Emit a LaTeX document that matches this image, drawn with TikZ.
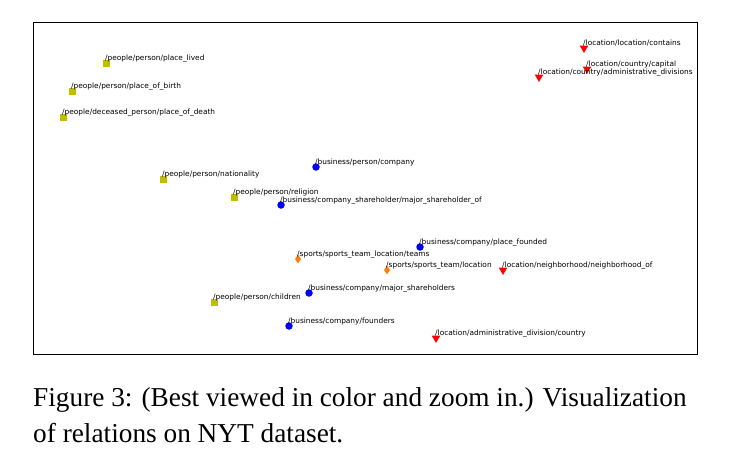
\documentclass[tikz,border=0pt]{standalone}
\usepackage{fontspec}
\setmainfont{Liberation Serif}
\newfontfamily\lab{DejaVu Sans}
\usetikzlibrary{shapes.geometric}
\definecolor{oliv}{RGB}{191,191,0}
\definecolor{orng}{RGB}{255,127,14}
\tikzset{
 x=1pt,y=-1pt,
 sq/.style={fill=oliv,minimum size=7pt,inner sep=0pt},
 ci/.style={circle,fill=blue,minimum size=7.5pt,inner sep=0pt},
 di/.style={diamond,fill=orng,minimum width=6pt,minimum height=9pt,inner sep=0pt},
 tr/.style={regular polygon,regular polygon sides=3,shape border rotate=180,fill=red,minimum size=10pt,inner sep=0pt},
 lb/.style={anchor=base west,inner sep=0pt,font=\lab\fontsize{7.4pt}{8pt}\selectfont},
 cp/.style={anchor=base west,inner sep=0pt,font=\fontsize{27.3pt}{36pt}\selectfont},
}
\newcommand\pt[4]{\node[#1] (m#4) at (#2,#3) {}; \node[lb] (t#4) at (#2-1,#3-3) {\csname lbl#4\endcsname};}
\begin{document}
\begin{tikzpicture}
\useasboundingbox (0,0) rectangle (734,469);
\fill[white] (0,0) rectangle (734,469);
\draw[line width=0.6pt] (33,22) rectangle (697,354);
\def\lbla{/people/person/place\_lived}
\def\lblb{/people/person/place\_of\_birth}
\def\lblc{/people/deceased\_person/place\_of\_death}
\def\lbld{/people/person/nationality}
\def\lble{/people/person/religion}
\def\lblf{/people/person/children}
\def\lblg{/business/person/company}
\def\lblh{/business/company\_shareholder/major\_shareholder\_of}
\def\lbli{/business/company/place\_founded}
\def\lblj{/business/company/major\_shareholders}
\def\lblk{/business/company/founders}
\def\lbll{/sports/sports\_team\_location/teams}
\def\lblm{/sports/sports\_team/location}
\def\lbln{/location/location/contains}
\def\lblo{/location/country/capital}
\def\lblp{/location/country/administrative\_divisions}
\def\lblq{/location/neighborhood/neighborhood\_of}
\def\lblr{/location/administrative\_division/country}
\pt{sq}{106}{63}{a}
\pt{sq}{72}{91}{b}
\pt{sq}{63}{117}{c}
\pt{sq}{163}{179}{d}
\pt{sq}{234}{197}{e}
\pt{sq}{214}{302}{f}
\pt{ci}{316}{167}{g}
\pt{ci}{281}{205}{h}
\pt{ci}{420}{247}{i}
\pt{ci}{309}{293}{j}
\pt{ci}{289}{326}{k}
\pt{di}{298}{259}{l}
\pt{di}{387}{270}{m}
\pt{tr}{584}{48}{n}
\pt{tr}{587}{69}{o}
\pt{tr}{539}{77}{p}
\pt{tr}{503}{270}{q}
\pt{tr}{436}{338}{r}
\node[cp] (cap1) at (33,406) {Figure 3: (Best viewed in color and zoom in.) Visualization};
\node[cp] (cap2) at (33,442) {of relations on NYT dataset.};
\end{tikzpicture}
\end{document}
